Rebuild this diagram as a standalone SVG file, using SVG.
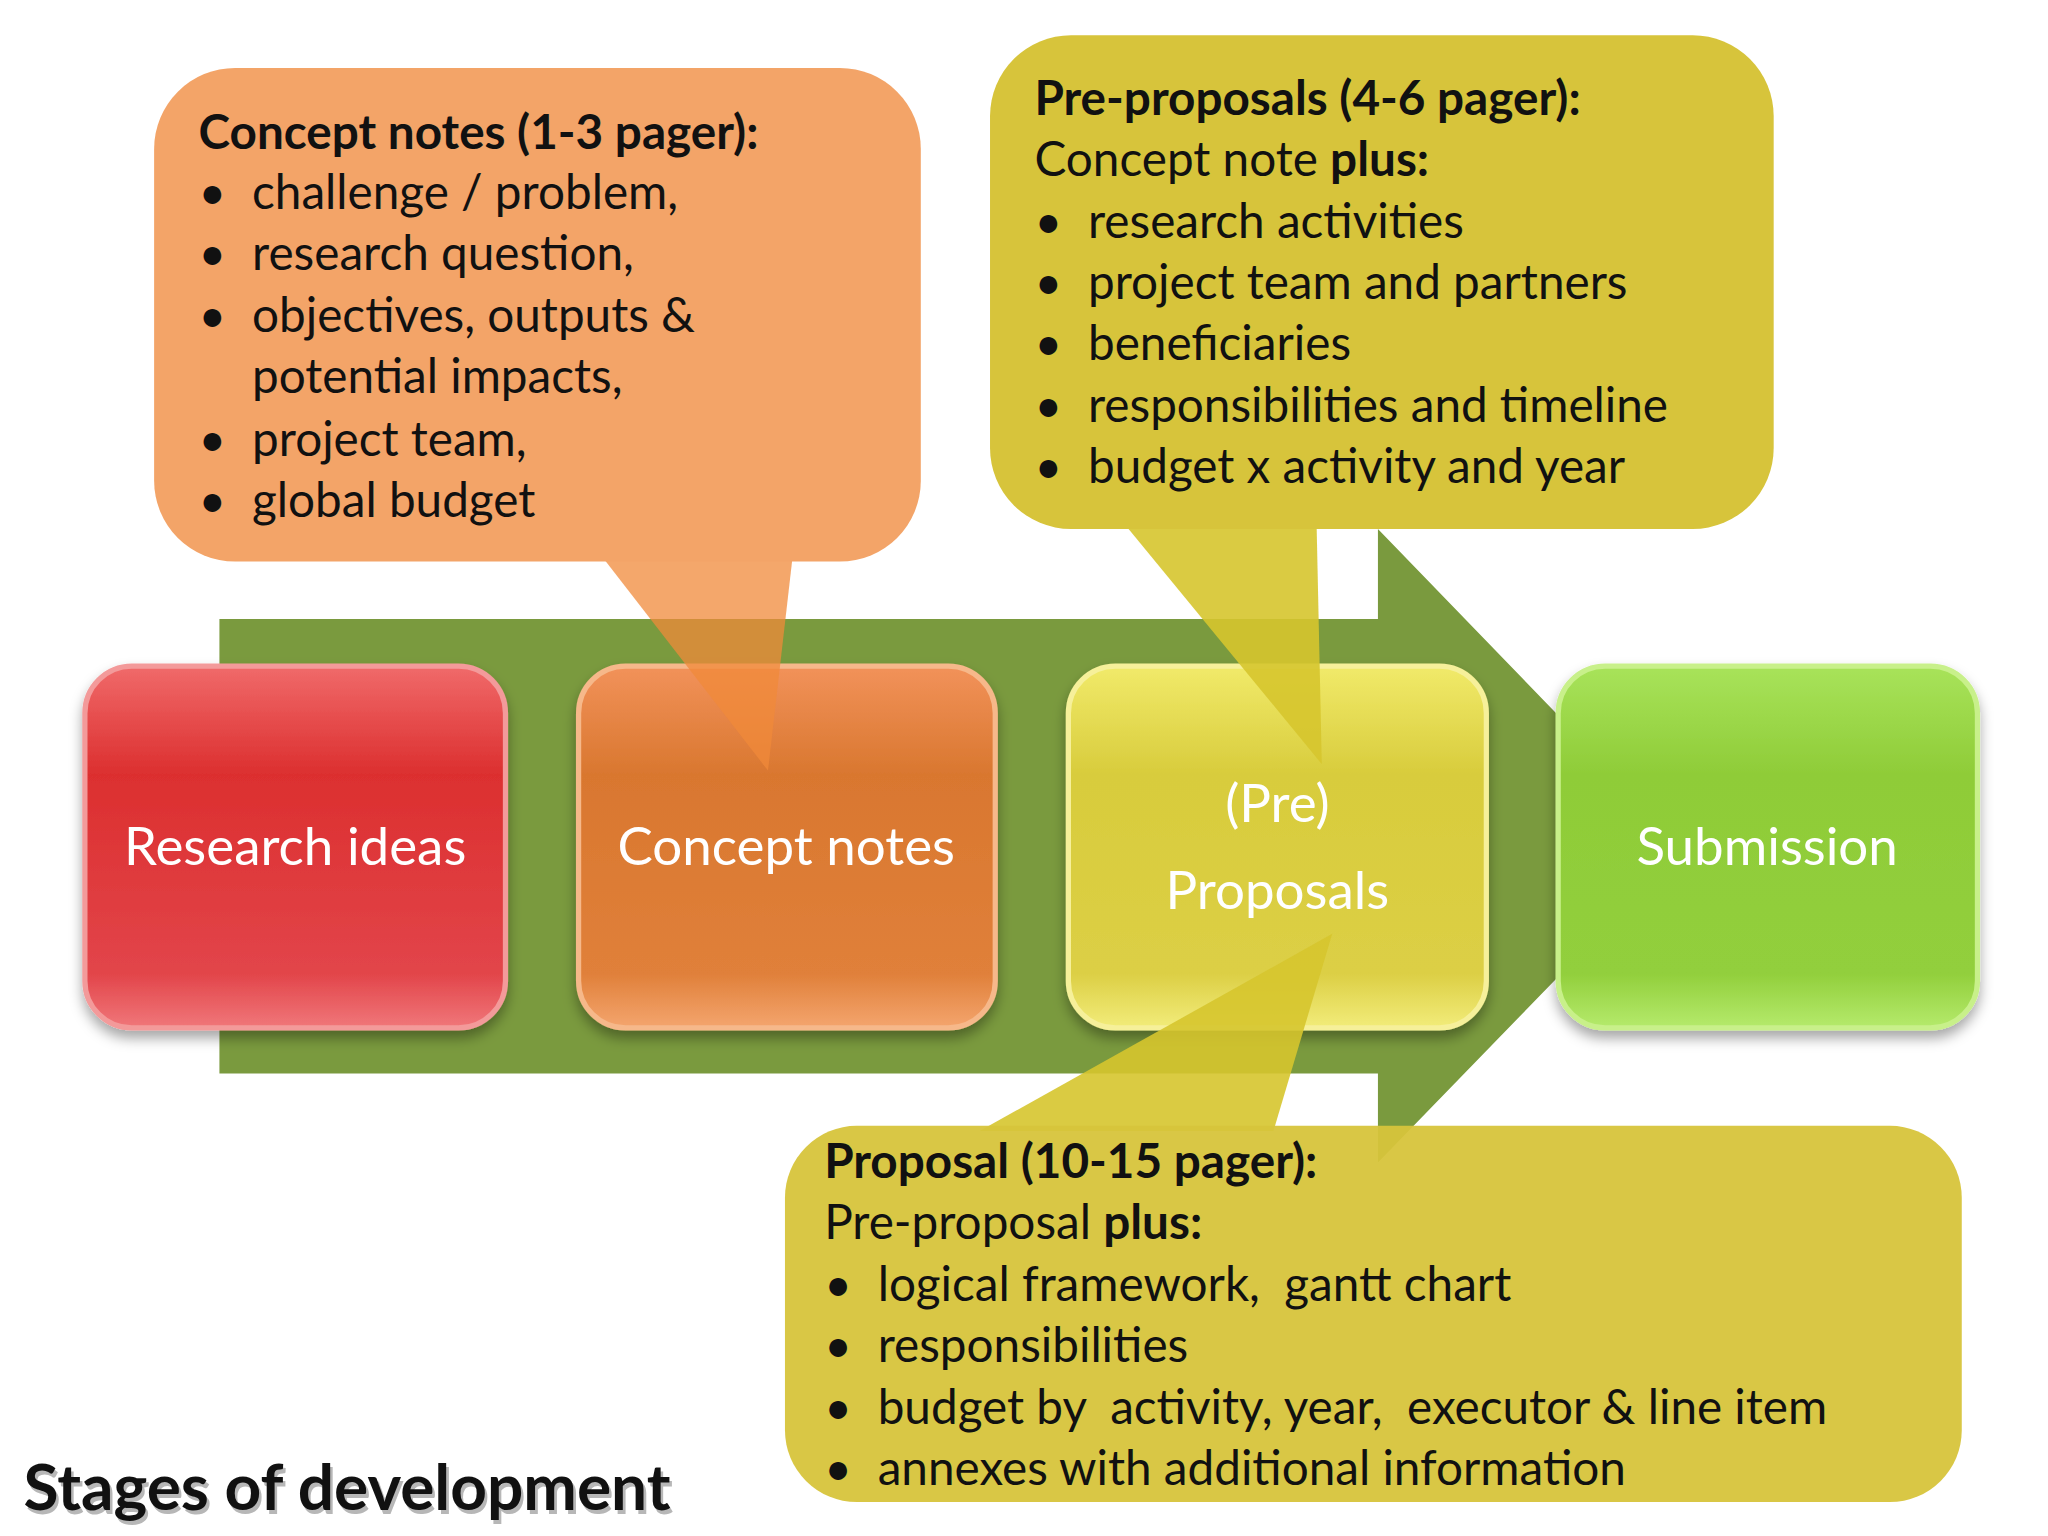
<svg xmlns="http://www.w3.org/2000/svg" width="2048" height="1536" viewBox="0 0 2048 1536">
<defs>
<linearGradient id="gr" x1="0" y1="0" x2="0" y2="1"><stop offset="0" stop-color="#f06a6a"/><stop offset="0.3" stop-color="#dc2f2f"/><stop offset="0.85" stop-color="#e2454a"/><stop offset="1" stop-color="#f0777a"/></linearGradient>
<linearGradient id="go" x1="0" y1="0" x2="0" y2="1"><stop offset="0" stop-color="#f2925a"/><stop offset="0.3" stop-color="#d9772f"/><stop offset="0.85" stop-color="#e0803a"/><stop offset="1" stop-color="#f4a56e"/></linearGradient>
<linearGradient id="gy" x1="0" y1="0" x2="0" y2="1"><stop offset="0" stop-color="#f1ea6a"/><stop offset="0.3" stop-color="#d8cc3c"/><stop offset="0.85" stop-color="#dccf45"/><stop offset="1" stop-color="#f2ec7a"/></linearGradient>
<linearGradient id="gg" x1="0" y1="0" x2="0" y2="1"><stop offset="0" stop-color="#a8e35a"/><stop offset="0.3" stop-color="#8fcc38"/><stop offset="0.85" stop-color="#92cf3c"/><stop offset="1" stop-color="#b5ea6c"/></linearGradient>
<filter id="sh" x="-10%" y="-10%" width="120%" height="130%"><feDropShadow dx="0" dy="6" stdDeviation="5" flood-opacity="0.35"/></filter>
</defs>
<style>
.t{font-family:Lato,"Open Sans",sans-serif;font-size:36.5px;fill:#111;white-space:pre}
.b{font-weight:bold}
.lbl{font-family:Lato,"Open Sans",sans-serif;font-size:40.5px;fill:#fff;text-anchor:middle}
</style>
<rect width="2048" height="1536" fill="#fff"/>
<g transform="scale(1.3061)">
<g id="arrow"><path d="M168 474 H1055 V405 L1290 648 L1055 890 V822 H168 Z" fill="#7a9a3e"/></g>
<g id="research"><rect x="65" y="510" width="322" height="277" rx="36" fill="url(#gr)" stroke="#f39a9a" stroke-width="4" filter="url(#sh)"/><text class="lbl" x="226" y="662">Research ideas</text></g>
<g id="concept"><rect x="443" y="510" width="319" height="277" rx="36" fill="url(#go)" stroke="#f6b88a" stroke-width="4" filter="url(#sh)"/><text class="lbl" x="602" y="662">Concept notes</text></g>
<g id="proposals"><rect x="818" y="510" width="320" height="277" rx="36" fill="url(#gy)" stroke="#f6f09a" stroke-width="4" filter="url(#sh)"/><text class="lbl" x="978" y="629">(Pre)</text><text class="lbl" x="978" y="696">Proposals</text></g>
<g id="submission"><rect x="1193" y="510" width="321" height="277" rx="36" fill="url(#gg)" stroke="#c8f08a" stroke-width="4" filter="url(#sh)"/><text class="lbl" x="1353" y="662">Submission</text></g>
<g id="callout-concept">
<path d="M460 425 L607 425 L588 590 Z" fill="#f08a3a" fill-opacity="0.75"/>
<rect x="118" y="52" width="587" height="378" rx="62" fill="#f3a468"/>
<text class="t b" x="152" y="114">Concept notes (1-3 pager):</text>
<text class="t" x="152" y="160">•</text><text class="t" x="193" y="160">challenge / problem,</text>
<text class="t" x="152" y="207">•</text><text class="t" x="193" y="207">research question,</text>
<text class="t" x="152" y="254">•</text><text class="t" x="193" y="254">objectives, outputs &amp;</text>
<text class="t" x="193" y="301">potential impacts,</text>
<text class="t" x="152" y="349">•</text><text class="t" x="193" y="349">project team,</text>
<text class="t" x="152" y="396">•</text><text class="t" x="193" y="396">global budget</text>
</g>
<g id="callout-pre">
<path d="M860 400 L1008 400 L1012 585 Z" fill="#d6c52e" fill-opacity="0.9"/>
<rect x="758" y="27" width="600" height="378" rx="62" fill="#d7c43b"/>
<text class="t b" x="792" y="88">Pre-proposals (4-6 pager):</text>
<text class="t" x="792" y="135">Concept note <tspan class="b">plus:</tspan></text>
<text class="t" x="792" y="182">•</text><text class="t" x="833" y="182">research activities</text>
<text class="t" x="792" y="229">•</text><text class="t" x="833" y="229">project team and partners</text>
<text class="t" x="792" y="276">•</text><text class="t" x="833" y="276">beneficiaries</text>
<text class="t" x="792" y="323">•</text><text class="t" x="833" y="323">responsibilities and timeline</text>
<text class="t" x="792" y="370">•</text><text class="t" x="833" y="370">budget x activity and year</text>
</g>
<g id="callout-proposal">
<path d="M750 866 L975 866 L1020 715 Z" fill="#d6c52e" fill-opacity="0.9"/>
<rect x="601" y="862" width="901" height="288" rx="55" fill="#d7c43b" fill-opacity="0.95"/>
<text class="t b" x="631" y="902">Proposal (10-15 pager):</text>
<text class="t" x="631" y="949">Pre-proposal <tspan class="b">plus:</tspan></text>
<text class="t" x="631" y="996">•</text><text class="t" x="672" y="996">logical framework,  gantt chart</text>
<text class="t" x="631" y="1043">•</text><text class="t" x="672" y="1043">responsibilities</text>
<text class="t" x="631" y="1090">•</text><text class="t" x="672" y="1090">budget by  activity, year,  executor &amp; line item</text>
<text class="t" x="631" y="1137">•</text><text class="t" x="672" y="1137">annexes with additional information</text>
</g>
<g id="title"><text x="20" y="1159" font-family="Lato,'Open Sans',sans-serif" font-weight="bold" font-size="49" fill="#999" opacity="0.7">Stages of development</text><text x="18" y="1156" font-family="Lato,'Open Sans',sans-serif" font-weight="bold" font-size="49" fill="#111">Stages of development</text></g>
</g>
</svg>
